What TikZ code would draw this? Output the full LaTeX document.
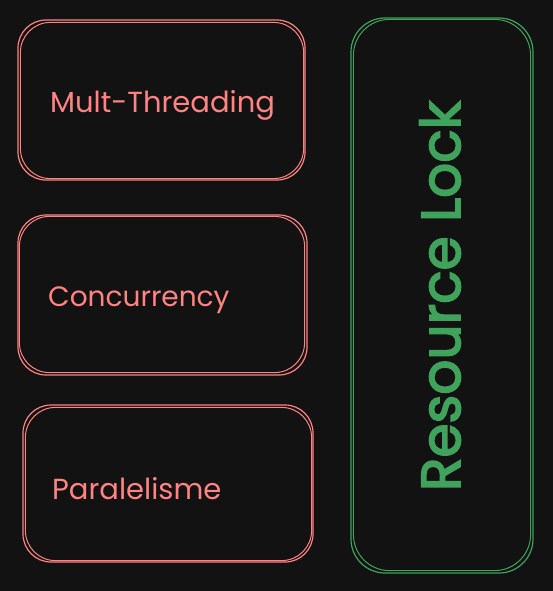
\documentclass[tikz,border=0pt]{standalone}
\usepackage{fontspec}
\setmainfont{Poppins}
\newfontfamily\lockfont[UprightFeatures={FakeBold=3}]{Poppins}
\usetikzlibrary{positioning}
\definecolor{bgdark}{HTML}{121212}
\definecolor{salmon}{HTML}{FF8383}
\definecolor{lockgreen}{HTML}{40A35C}

\begin{document}
\begin{tikzpicture}[x=1pt,y=-1pt,
		redbox/.style={draw=salmon,line width=1.2pt,rounded corners=28pt,minimum width=287pt,minimum height=160pt},
		redline/.style={draw=salmon,line width=1pt,rounded corners=30pt},
		redtext/.style={text=salmon,font=\fontsize{29}{32}\selectfont,anchor=west,inner sep=0pt},
		greenbox/.style={draw=lockgreen,line width=1.2pt,rounded corners=34pt,minimum width=182pt,minimum height=555pt},
		greenline/.style={draw=lockgreen,line width=1pt,rounded corners=36pt}]
		\fill[bgdark] (0,0) rectangle (553,591);
		% left column
		\node[redbox] (mt) at (161.5,100) {};
		\draw[redline] ([shift={(3,-2)}]mt.south west) rectangle ([shift={(-2,3)}]mt.north east);
		\node[redtext] (mtlabel) at (50,105) {Mult-Threading};
		\node[redbox,minimum width=289pt] (cc) at (162.5,295) {};
		\draw[redline] ([shift={(2,-3)}]cc.south west) rectangle ([shift={(-3,2)}]cc.north east);
		\node[redtext,font=\fontsize{28}{32}\selectfont] (cclabel) at (48,300) {Concurrency};
		\node[redbox,minimum width=290pt,minimum height=157pt] (pl) at (168,483.5) {};
		\draw[redline] ([shift={(3,-2)}]pl.south west) rectangle ([shift={(-2,3)}]pl.north east);
		\node[redtext] (pllabel) at (52,489) {Paralelisme};
		% right column
		\node[greenbox] (rl) at (442,295.5) {};
		\draw[greenline] ([shift={(3,-3)}]rl.south west) rectangle ([shift={(-3,2)}]rl.north east);
		\node[text=lockgreen,font=\lockfont\fontsize{55}{58}\selectfont,rotate=90,inner sep=0pt] (rllabel) at (440,296) {Resource Lock};
	   \end{tikzpicture}
\end{document}
